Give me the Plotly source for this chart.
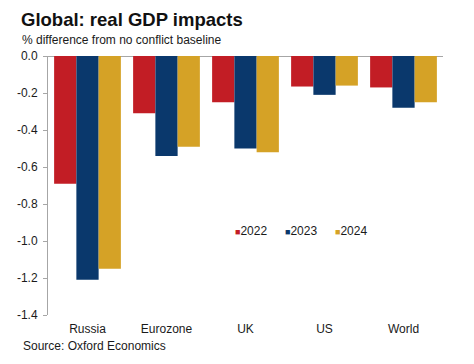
import plotly.graph_objects as go

categories = ["Russia", "Eurozone", "UK", "US", "World"]
years = ["2022", "2023", "2024"]
values_2022 = [-0.69, -0.31, -0.25, -0.165, -0.17]
values_2023 = [-1.21, -0.54, -0.50, -0.21, -0.28]
values_2024 = [-1.15, -0.49, -0.52, -0.16, -0.25]
y_ticks = [0.0, -0.2, -0.4, -0.6, -0.8, -1.0, -1.2, -1.4]

colors = ["#C21D25", "#0A386C", "#D5A226"]
font_family = "Arial, 'Liberation Sans', sans-serif"

PW, PH = 395, 259  # plot area size in px

fig = go.Figure()
for name, vals, col in zip(years, [values_2022, values_2023, values_2024], colors):
    fig.add_trace(go.Bar(x=categories, y=vals, name=name, marker_color=col,
                         marker_line_width=0, showlegend=False))

annotations = [
    dict(text="% difference from no conflict baseline", xref="paper", yref="paper",
         x=-28 / PW, y=1 + 16 / PH, xanchor="left", yanchor="middle", showarrow=False,
         font=dict(size=12, color="#1a1a1a")),
    dict(text="Source: Oxford Economics", xref="paper", yref="paper",
         x=-27 / PW, y=-31 / PH, xanchor="left", yanchor="middle", showarrow=False,
         font=dict(size=12, color="#1a1a1a")),
]
# legend drawn as text entries
for i, (name, col) in enumerate(zip(years, colors)):
    annotations.append(dict(
        text=f"<span style='color:{col};font-size:9px'>■</span>{name}",
        xref="paper", yref="paper", x=(185 + 50 * i) / PW, y=84 / PH,
        xanchor="left", yanchor="middle", showarrow=False,
        font=dict(size=12, color="#1a1a1a")))

fig.update_layout(
    width=474, height=364,
    margin=dict(l=48, r=31, t=56, b=49),
    paper_bgcolor="white", plot_bgcolor="white",
    font=dict(family=font_family, size=12, color="#1a1a1a"),
    barmode="group", bargap=0.155, bargroupgap=0,
    title=dict(text="<b>Global: real GDP impacts</b>", xref="container", x=21 / 474,
               xanchor="left", yref="container", y=1 - 20 / 364, yanchor="middle",
               font=dict(size=18.5, color="#111111", family=font_family)),
    showlegend=False,
    annotations=annotations,
)
fig.update_yaxes(range=[-1.4, 0.0], tickvals=y_ticks,
                 ticktext=[f"{v:.1f}" for v in y_ticks],
                 showgrid=False, showline=True, linecolor="#A6A6A6", linewidth=1,
                 ticks="outside", ticklen=4, tickcolor="#A6A6A6",
                 zeroline=True, zerolinecolor="#A6A6A6", zerolinewidth=1,
                 ticklabelstandoff=3,
                 tickfont=dict(size=12, color="#1a1a1a"))
fig.update_xaxes(showgrid=False, showline=False, ticks="", ticklabelstandoff=5,
                 tickfont=dict(size=12, color="#1a1a1a"))

fig.write_html("out.html", config={"displayModeBar": False},
               post_script="document.body.style.margin='0';")
